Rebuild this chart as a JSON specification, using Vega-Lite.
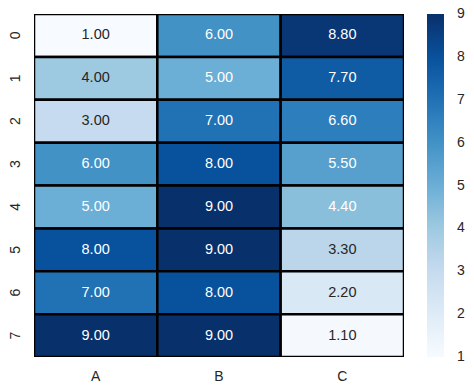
{
  "$schema": "https://vega.github.io/schema/vega-lite/v6.json",
  "width": 370,
  "height": 343,
  "padding": {"left": 8, "top": 14, "right": 5, "bottom": 5},
  "background": "white",
  "config": {
    "view": {"stroke": null},
    "font": "Liberation Sans",
    "axis": {"domain": false, "ticks": false, "grid": false, "labelFontSize": 14, "labelColor": "#262626", "title": null, "labelFont": "Liberation Sans"},
    "legend": {"labelFont": "Liberation Sans", "labelFontSize": 14, "labelColor": "#262626"}
  },
  "data": {
    "values": [
      {"row": "0", "col": "A", "v": 1.0}, {"row": "0", "col": "B", "v": 6.0}, {"row": "0", "col": "C", "v": 8.8},
      {"row": "1", "col": "A", "v": 4.0}, {"row": "1", "col": "B", "v": 5.0}, {"row": "1", "col": "C", "v": 7.7},
      {"row": "2", "col": "A", "v": 3.0}, {"row": "2", "col": "B", "v": 7.0}, {"row": "2", "col": "C", "v": 6.6},
      {"row": "3", "col": "A", "v": 6.0}, {"row": "3", "col": "B", "v": 8.0}, {"row": "3", "col": "C", "v": 5.5},
      {"row": "4", "col": "A", "v": 5.0}, {"row": "4", "col": "B", "v": 9.0}, {"row": "4", "col": "C", "v": 4.4},
      {"row": "5", "col": "A", "v": 8.0}, {"row": "5", "col": "B", "v": 9.0}, {"row": "5", "col": "C", "v": 3.3},
      {"row": "6", "col": "A", "v": 7.0}, {"row": "6", "col": "B", "v": 8.0}, {"row": "6", "col": "C", "v": 2.2},
      {"row": "7", "col": "A", "v": 9.0}, {"row": "7", "col": "B", "v": 9.0}, {"row": "7", "col": "C", "v": 1.1}
    ]
  },
  "encoding": {
    "x": {"field": "col", "type": "nominal", "axis": {"labelAngle": 0, "labelPadding": 12}},
    "y": {"field": "row", "type": "nominal", "axis": {"labelAngle": -90, "labelPadding": 12, "labelAlign": "center", "labelBaseline": "bottom"}}
  },
  "layer": [
    {
      "mark": {"type": "rect", "stroke": "black", "strokeWidth": 2.5, "clip": true},
      "encoding": {
        "color": {
          "field": "v", "type": "quantitative",
          "scale": {"domain": [1, 2, 3, 4, 5, 6, 7, 8, 9], "range": ["#f7fbff", "#deebf7", "#c6dbef", "#9ecae1", "#6baed6", "#4292c6", "#2171b5", "#08519c", "#08306b"]},
          "legend": {
            "title": null, "gradientLength": 343, "gradientThickness": 17,
            "values": [1, 2, 3, 4, 5, 6, 7, 8, 9], "offset": 23, "padding": 0,
            "gradientStrokeWidth": 0, "labelOffset": 13, "labelOverlap": false,
            "encode": {"labels": {"update": {"baseline": {"value": "middle"}}}}
          }
        }
      }
    },
    {
      "mark": {"type": "text", "fontSize": 14.5, "font": "Liberation Sans"},
      "encoding": {
        "text": {"field": "v", "type": "quantitative", "format": ".2f"},
        "color": {"condition": {"test": "datum.v > 4.2", "value": "white"}, "value": "#262626"}
      }
    }
  ]
}
